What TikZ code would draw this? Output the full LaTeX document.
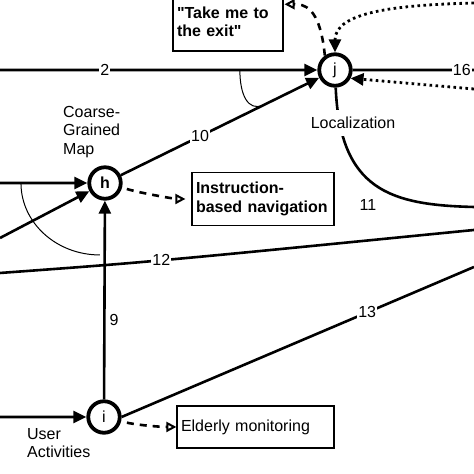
\documentclass[tikz,border=0pt]{standalone}
\usepackage{fontspec}
\setmainfont{Liberation Sans}
\usetikzlibrary{arrows.meta,calc}

\begin{document}
\begin{tikzpicture}[scale=0.03515,
  state/.style={circle,draw,line width=3.8pt,minimum size=31.5pt},
  edge/.style={line width=2.6pt,-{Triangle[length=13pt,width=12pt]}},
  plain/.style={line width=2.6pt},
  lbl/.style={fill=white,inner sep=1pt},
  hint/.style={line width=2.6pt,dash pattern=on 7pt off 6pt,-{Triangle[open,length=10pt,width=10pt,line width=2pt]}},
  dotline/.style={line width=2.8pt,dash pattern=on 2.6pt off 3.4pt,-{Triangle[length=13pt,width=12pt]}},
  outbox/.style={draw,line width=1.2pt,align=left,inner xsep=4pt,inner ysep=10pt},
  boldtxt/.style={font=\fontsize{16}{18.5}\selectfont\bfseries},
  andarc/.style={line width=1pt}]
\tikzstyle{every node}+=[inner sep=0pt,font=\fontsize{16}{18.5}\selectfont]
\useasboundingbox (0,0) rectangle (474,-474);
\node [state] (j) at (335,-70) {j};
\node [state] (h) at (105,-183) {\textbf{h}};
\node [state] (i) at (104,-417) {i};
\node [outbox,boldtxt,text width=102pt,minimum height=58pt] (take) at (228,-22) {\textquotedbl Take me to\\the exit\textquotedbl};
\node [outbox,boldtxt,text width=134pt] (nav) at (263,-199) {Instruction-\\based navigation};
\node [outbox,text width=149pt,minimum height=42pt] (emon) at (255.5,-427) {Elderly monitoring};
\coordinate (in2) at (0,-70);
\coordinate (inh) at (0,-183);
\coordinate (inh2) at (0,-238);
\coordinate (ini) at (0,-417);
\coordinate (e11) at (474,-207);
\coordinate (e12a) at (0,-273);
\coordinate (e12b) at (474,-230);
\coordinate (e13) at (474,-267);
\coordinate (e16) at (474,-70);
\coordinate (dot1) at (474,-3);
\coordinate (dot2) at (474,-89);
\draw [plain] (j) .. controls (340,-190) and (390,-205) .. (e11);
\node [fill=white,inner xsep=6pt,inner ysep=7pt] (loc) at (353,-123) {Localization};
\draw [edge] (in2) -- coordinate[pos=0.756] (and2) node[lbl,pos=0.33] {2} (j);
\draw [edge] (h) -- coordinate[pos=0.717] (and10) node[lbl,pos=0.4] {10} (j);
\draw [andarc] (and2) .. controls +(0,-25) and +(-15,-6) .. (and10);
\draw [plain] (j) -- node[lbl,pos=0.9] {16} (e16);
\draw [dotline] (dot1) .. controls +(-80,-2) and +(0,40) .. (j.north);
\draw [dotline] (dot2) -- (j.-28);
\coordinate (tk) at ($(take.north east)!0.2!(take.south east)$);
\draw [hint,shorten >=1pt] (j.125) .. controls +(-5,50) and +(20,0) .. (tk);
\draw [edge] (inh) -- coordinate[pos=0.24] (andh) (h);
\draw [edge] (inh2) -- (h);
\draw [andarc] (andh) arc (180:270:79 and 72);
\draw [edge] (i) -- node[right=4pt,pos=0.4] {9} (h);
\draw [hint,shorten <=5pt,shorten >=6pt] (h.-15) .. controls +(20,-6) and +(-15,0) .. (nav.west);
\draw [plain] (e12a) .. controls (150,-262) .. node[lbl,pos=0.47] {12} (e12b);
\node at (368,-205) {11};
\draw [edge] (ini) -- (i);
\draw [plain] (i.east) -- node[lbl,pos=0.697] {13} (e13);
\draw [hint,shorten <=6pt] (i.-15) .. controls +(20,-4) and +(-15,0) .. (emon.west);
\node [anchor=west,align=left] (map) at (63,-132) {Coarse-\\Grained\\Map};
\node [anchor=west,align=left] (user) at (27,-443) {User\\Activities};
\end{tikzpicture}
\end{document}
